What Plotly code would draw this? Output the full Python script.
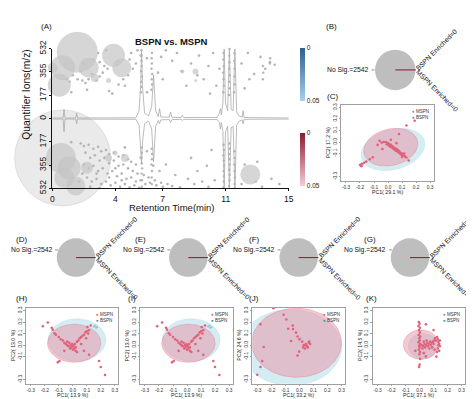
import numpy as np
import plotly.graph_objects as go

W, H = 474, 399
FONT = "Liberation Sans, Arial, sans-serif"


def fx(p):
    return p / W


def fy(p):
    return 1 - p / H


# ================= Panel A data =================
rt_ticks = [0, 4, 7, 11, 15]
mz_tickvals = [532, 355, 177, 0, -177, -355, -532]
mz_ticktext = ["532", "355", "177", "0", "177", "355", "532"]

# BSPN (upper half) large features
bspn_big_rt = [1.58, 0.65, 0.44, 2.31, 3.88, 4.40, 2.69, 0.02, 9.08, 8.25, 9.10, 3.56]
bspn_big_mz = [506, 387, 254, 387, 482, 387, 310, 387, 358, 358, 290, 290]
bspn_big_size = [41, 25, 23, 20, 23, 19, 8, 10, 6, 4, 3, 5]

# BSPN small features
bspn_dot_rt = [0.9, 1.1, 1.3, 1.6, 1.9, 2.1, 2.3, 2.5, 2.8, 3.0, 3.2, 1.8, 2.0, 2.6, 3.0, 3.3, 3.5, 2.9, 3.4, 4.5,
               4.8, 4.9, 5.0, 4.6, 5.1, 5.3, 5.4, 5.6, 6.0, 6.7, 6.9, 7.2, 7.6, 7.9, 8.2, 8.8, 9.3, 9.6, 9.9, 10.2,
               10.4, 10.6, 12.0, 12.4, 12.8, 13.2, 13.5, 13.8, 14.1, 12.5, 8.5, 9.2, 7.0, 6.0, 3.8, 2.2, 1.2, 4.2, 3.6, 10.0,
               12.2]
bspn_dot_mz = [300, 280, 330, 300, 290, 270, 300, 340, 290, 320, 350, 360, 420, 450, 430, 400, 380, 500, 520, 300,
               330, 450, 500, 250, 380, 420, 520, 480, 460, 350, 470, 520, 440, 500, 360, 420, 480, 300, 400, 500,
               250, 380, 420, 500, 340, 470, 380, 430, 410, 300, 250, 330, 300, 200, 190, 220, 200, 260, 210, 190,
               230]
bspn_streak_rt = [5.62, 5.66, 5.64, 5.68, 5.63, 5.67, 5.65, 5.66, 5.64,
                  6.28, 6.32, 6.30, 6.33, 6.29, 6.31, 6.30, 6.32,
                  10.84, 10.88, 10.86, 10.83, 10.87, 10.85, 10.86,
                  11.20, 11.24, 11.22, 11.25, 11.21, 11.23, 11.22, 11.24,
                  11.53, 11.57, 11.55, 11.56, 11.54, 11.55,
                  13.35, 13.38, 13.36, 13.80, 13.82]
bspn_streak_mz = [200, 240, 280, 320, 360, 400, 440, 480, 520,
                  220, 260, 300, 340, 380, 420, 460, 500,
                  200, 250, 300, 350, 400, 450, 500,
                  180, 230, 280, 330, 380, 430, 480, 530,
                  200, 260, 320, 380, 440, 500,
                  300, 350, 400, 420, 460]

# MSPN (lower half, plotted as negative m/z)
mspn_halo_rt = [0.65]
mspn_halo_mz = [-300]
mspn_halo_size = [96]

mspn_big_rt = [0.54, 1.06, 1.48, 0.75, 2.20, 4.60, 12.56, 3.56, 3.98]
mspn_big_mz = [-300, -376, -515, -452, -376, -300, -426, -300, -263]
mspn_big_size = [30, 23, 19, 20, 12, 8, 20, 7, 5]

mspn_dot_rt = [1.8, 2.0, 2.3, 2.6, 2.9, 3.1, 3.4, 3.6, 3.9, 4.2, 4.5, 4.8, 5.0, 5.3,
               2.1, 2.4, 2.7, 3.0, 3.3, 3.6, 3.9, 4.2, 4.5, 4.8, 5.1, 5.4, 5.8, 6.1, 6.5, 6.9, 7.3,
               2.0, 2.3, 2.6, 2.9, 3.2, 3.5, 3.8, 4.1, 4.4, 4.7, 5.0, 5.3, 5.6, 5.9, 6.2, 6.6, 7.0, 7.6, 8.1,
               2.2, 2.5, 2.8, 3.1, 3.4, 3.7, 4.0, 4.3, 4.6, 4.9, 5.2, 5.5,
               1.9, 2.4, 3.0, 3.6, 4.0, 4.4, 2.8, 1.7,
               8.6, 9.0, 9.5, 9.9, 10.3, 12.0, 12.9, 13.3, 13.9, 14.4, 12.2, 13.0,
               6.8, 7.8, 6.4, 5.6, 9.2, 8.8, 9.8, 10.1, 4.6, 1.2, 6.0, 7.2]
mspn_dot_mz = [-190, -210, -200, -230, -215, -250, -240, -270, -260, -290, -280, -310, -330, -350,
               -260, -300, -280, -320, -300, -340, -320, -360, -350, -380, -400, -420, -430, -450, -470, -490, -500,
               -350, -380, -360, -400, -380, -420, -400, -440, -420, -460, -450, -480, -470, -500, -490, -510, -520, -515, -525,
               -450, -480, -460, -500, -480, -510, -490, -520, -500, -525, -510, -528,
               -420, -520, -530, -450, -380, -470, -420, -480,
               -460, -500, -480, -520, -470, -500, -480, -520, -460, -500, -350, -330,
               -400, -430, -360, -300, -400, -300, -360, -240, -220, -180, -250, -350]
mspn_streak_rt = [5.66, 5.68, 5.65, 5.67, 5.69, 5.66, 5.68, 5.67,
                  6.30, 6.33, 6.31, 6.29, 6.32, 6.30, 6.31,
                  10.86, 10.88, 10.85, 10.87, 10.89, 10.86, 10.88, 10.87, 10.85,
                  11.22, 11.24, 11.21, 11.23, 11.25, 11.22, 11.24, 11.23, 11.21,
                  11.55, 11.57, 11.54, 11.56, 11.58, 11.55, 11.57]
mspn_streak_mz = [-220, -260, -300, -340, -380, -420, -470, -520,
                  -230, -270, -310, -350, -400, -450, -500,
                  -200, -240, -280, -320, -360, -400, -440, -480, -525,
                  -190, -230, -270, -310, -350, -390, -430, -470, -515,
                  -250, -300, -350, -400, -450, -500, -530]

# chromatograms (TIC, scaled to the m/z axis)
tic_rt = [0.0, 0.68, 0.74, 0.80, 1.48, 1.54, 1.60, 5.30, 5.50, 5.60, 5.66, 5.72, 5.85, 6.10, 6.30, 6.42, 6.55,
          6.72, 6.80, 6.88, 7.42, 7.50, 7.58, 8.17, 8.25, 8.33, 10.45, 10.60, 10.66, 10.72, 10.82, 10.90, 10.98,
          11.12, 11.23, 11.34, 11.47, 11.58, 11.69, 11.85, 12.04, 12.10, 12.16, 15.0]
tic_bspn = [4, 4, 70, 4, 4, 40, 4, 6, 60, 250, 532, 240, 40, 20, 90, 330, 60,
            15, 75, 12, 10, 50, 10, 8, 25, 8, 8, 40, 75, 30, 120, 532, 120,
            60, 532, 70, 60, 532, 50, 20, 10, 60, 8, 4]
tic_mspn = [-4, -4, -100, -4, -4, -40, -4, -6, -50, -200, -350, -180, -40, -20, -80, -330, -60,
            -15, -40, -10, -8, -30, -8, -6, -15, -6, -8, -30, -80, -30, -100, -532, -100,
            -60, -532, -70, -60, -532, -50, -20, -10, -40, -6, -4]

pval_ticks = [-0.05, 0]
pval_ticktext = ["0.05", "0"]

# ================= Pie data (B, D-G) =================
pie_labels = ["No Sig.", "BSPN Enriched", "MSPN Enriched"]
pie_values = [2542, 0, 0]

# ================= PCA data =================
pc_ticks = [-0.3, -0.2, -0.1, 0.0, 0.1, 0.2, 0.3]
pc_ticktext = ["-0.3", "-0.2", "-0.1", "0.0", "0.1", "0.2", "0.3"]
pc_yticks = [-0.3, -0.1, 0.0, 0.1, 0.2, 0.3]
pc_yticktext = ["-0.3", "-0.1", "0.0", "0.1", "0.2", "0.3"]

c_m_pc1 = [-0.200, -0.190, -0.186, -0.170, -0.155, -0.130, -0.109, -0.074, -0.060, -0.045, -0.030, -0.015,
           -0.010, 0.000, 0.005, 0.010, 0.015, 0.020, 0.025, 0.030, 0.035, 0.040, 0.045, 0.050, 0.055, 0.060,
           0.065, 0.070, 0.075, 0.080, 0.085, 0.090, 0.095, 0.100, 0.110, 0.120, 0.130, 0.147, 0.078, 0.131,
           0.190, 0.060, -0.040, 0.020, 0.100, 0.115]
c_m_pc2 = [-0.200, -0.210, -0.188, -0.180, -0.170, -0.150, -0.133, -0.025, 0.010, -0.005, 0.000, 0.000,
           -0.020, -0.010, -0.030, -0.020, -0.040, -0.025, -0.045, -0.035, -0.055, -0.045, -0.065, -0.055, -0.075, -0.060,
           -0.080, -0.070, -0.090, -0.080, -0.100, -0.095, -0.110, -0.100, -0.115, -0.125, -0.135, -0.160, 0.070, 0.143,
           0.184, -0.010, -0.060, 0.020, -0.130, -0.100]
c_b_pc1 = [-0.192, -0.180]
c_b_pc2 = [-0.192, -0.200]

h_m_pc1 = [-0.213, -0.178, -0.143, -0.130, -0.120, -0.100, -0.085, -0.070, -0.060, -0.050, -0.040, -0.030, -0.025,
           -0.020, -0.015, -0.010, -0.005, 0.000, 0.005, 0.010, 0.015, 0.020, 0.030, 0.040, 0.050, 0.060, 0.070,
           0.080, 0.090, 0.100, 0.104, 0.115, 0.128, 0.110, 0.095, -0.095, -0.107, 0.116, 0.187, 0.199, 0.230,
           -0.060, 0.030, 0.060, -0.150, 0.080, -0.040, 0.000, 0.020]
h_m_pc2 = [0.164, 0.196, 0.134, 0.102, 0.090, 0.070, 0.050, 0.040, 0.020, 0.010, 0.000, -0.010, 0.020,
           -0.030, 0.000, -0.020, 0.010, -0.040, -0.010, -0.030, 0.010, -0.020, 0.030, 0.040, 0.060, 0.070, 0.080,
           0.090, 0.110, 0.120, 0.156, 0.129, 0.170, 0.100, 0.060, -0.138, -0.150, -0.084, -0.138, -0.190, -0.260,
           -0.050, -0.060, 0.010, 0.150, -0.050, 0.030, 0.000, -0.050]
h_b_pc1 = [0.150, 0.174, 0.160, 0.165]
h_b_pc2 = [0.161, 0.156, 0.170, 0.150]

i_m_pc1 = list(h_m_pc1)
i_m_pc2 = list(h_m_pc2)
i_b_pc1 = list(h_b_pc1)
i_b_pc2 = list(h_b_pc2)

j_m_pc1 = [-0.185, -0.112, -0.093, -0.047, -0.045, -0.080, -0.024, -0.013, -0.059, 0.000, 0.052, 0.036, 0.045,
           0.077, 0.060, 0.027, 0.040, 0.065, 0.030, 0.055, -0.001, -0.013, -0.254, -0.265, -0.277, -0.300, -0.277,
           0.070, 0.020]
j_m_pc2 = [0.320, 0.263, 0.222, 0.169, 0.140, 0.142, 0.108, 0.075, 0.036, 0.050, -0.004, -0.002, 0.010,
           0.010, -0.020, -0.020, -0.030, 0.020, 0.000, -0.010, -0.057, -0.090, -0.017, -0.138, -0.190, -0.257, 0.180,
           0.030, 0.030]
j_b_pc1 = [0.010]
j_b_pc2 = [0.060]

k_m_pc1 = [-0.005, 0.000, -0.008, 0.003, -0.004, 0.002, -0.006, 0.004, -0.002, 0.001, -0.007, 0.005, -0.003,
           0.000, -0.005, 0.003, -0.002, 0.004, 0.000, -0.004,
           0.015, 0.025, 0.035, 0.045, 0.055, 0.065, 0.075, 0.085, 0.095, 0.105, 0.115, 0.020, 0.040, 0.060, 0.080,
           0.100, 0.030, 0.050, 0.070, 0.090, 0.110,
           0.125, 0.130, 0.135, 0.140, 0.145, 0.130, 0.140, 0.125, 0.135, 0.145,
           0.045, 0.100, 0.107, 0.045, 0.120, 0.030, -0.030]
k_m_pc2 = [0.200, 0.185, 0.165, 0.150, 0.130, 0.110, 0.090, 0.075, 0.060, 0.040, 0.025, 0.010, -0.005,
           -0.020, -0.040, -0.060, -0.080, -0.120, -0.170, -0.190,
           0.000, -0.010, 0.010, 0.000, 0.020, 0.010, 0.030, 0.020, 0.030, 0.040, 0.040, -0.030, -0.020, -0.010, 0.000,
           0.010, 0.030, 0.040, -0.030, -0.020, 0.060,
           0.070, 0.050, 0.030, 0.010, -0.010, -0.030, -0.050, -0.060, 0.000, 0.040,
           0.180, 0.130, -0.040, -0.098, -0.100, -0.070, -0.050]
k_b_pc1 = [0.060]
k_b_pc2 = [-0.010]

# confidence ellipses: (centre pc1, centre pc2, semi-axis a, semi-axis b, angle deg)
pca_panels = [
    dict(name="C", box=(336, 430, 91, 170), m=(c_m_pc1, c_m_pc2), b=(c_b_pc1, c_b_pc2),
         ell_b=(0.035, -0.065, 0.237, 0.169, 25), ell_m=(0.020, -0.045, 0.200, 0.155, 25),
         xlab="PC1( 29.1 %)", ylab="PC2( 17.2 %)"),
    dict(name="H", box=(16, 110, 302, 381), m=(h_m_pc1, h_m_pc2), b=(h_b_pc1, h_b_pc2),
         ell_b=(0.030, 0.044, 0.205, 0.184, 0), ell_m=(0.010, 0.016, 0.190, 0.165, 0),
         xlab="PC1( 13.9 %)", ylab="PC2( 13.0 %)"),
    dict(name="I", box=(132, 226, 302, 381), m=(i_m_pc1, i_m_pc2), b=(i_b_pc1, i_b_pc2),
         ell_b=(0.030, 0.044, 0.205, 0.184, 0), ell_m=(0.010, 0.016, 0.190, 0.165, 0),
         xlab="PC1( 13.9 %)", ylab="PC2( 13.0 %)"),
    dict(name="J", box=(246, 340, 302, 381), m=(j_m_pc1, j_m_pc2), b=(j_b_pc1, j_b_pc2),
         ell_b=(-0.060, -0.020, 0.360, 0.330, 0), ell_m=(-0.020, 0.020, 0.320, 0.300, 0),
         xlab="PC1( 33.2 %)", ylab="PC2( 24.6 %)"),
    dict(name="K", box=(368, 462, 302, 381), m=(k_m_pc1, k_m_pc2), b=(k_b_pc1, k_b_pc2),
         ell_b=(0.025, -0.010, 0.105, 0.110, 0), ell_m=(0.010, 0.004, 0.125, 0.128, 0),
         xlab="PC1( 37.1 %)", ylab="PC2( 14.5 %)"),
]

# pies: centre px and radius px
pie_panels = [
    dict(name="B", c=(391, 55), r=21, lab_dy=0),
    dict(name="D", c=(67, 250), r=20, lab_dy=-8),
    dict(name="E", c=(181, 250), r=20, lab_dy=-8),
    dict(name="F", c=(293, 250), r=20, lab_dy=-8),
    dict(name="G", c=(406, 250), r=20, lab_dy=-8),
]

panel_labels = [("(A)", 37, 10), ("(B)", 326, 10), ("(C)", 327, 83), ("(D)", 12, 231), ("(E)", 132, 231),
                ("(F)", 248, 231), ("(G)", 365, 231), ("(H)", 12, 292), ("(I)", 124, 292), ("(J)", 248, 292),
                ("(K)", 367, 292)]

GREY = "#c4c4c4"
DOT = "#b4b4b4"
PINK = "#e0627b"
BLUE_PT = "#9cc2d0"
LABEL_PX = 6.8


def ellipse_xy(cx, cy, a, b, ang_deg, n=120):
    t = np.linspace(0, 2 * np.pi, n)
    th = np.deg2rad(ang_deg)
    x = cx + a * np.cos(t) * np.cos(th) - b * np.sin(t) * np.sin(th)
    y = cy + a * np.cos(t) * np.sin(th) + b * np.sin(t) * np.cos(th)
    return x, y


def ann(text, x, y, size, angle=0, xanchor="center", yanchor="middle", **kw):
    d = dict(text=text, x=fx(x), y=fy(y), xref="paper", yref="paper", xanchor=xanchor, yanchor=yanchor,
             showarrow=False, textangle=angle, font=dict(size=size, family=FONT, color=kw.pop("color", "#111")))
    d.update(kw)
    return d


fig = go.Figure()

# ---------- Panel A ----------
fig.add_trace(go.Scatter(x=mspn_halo_rt, y=mspn_halo_mz, mode="markers", cliponaxis=False,
                         marker=dict(size=mspn_halo_size, color="rgba(185,185,185,0.42)",
                                     line=dict(width=0.6, color="rgba(160,160,160,0.6)")),
                         hoverinfo="skip", xaxis="x", yaxis="y"))
fig.add_trace(go.Scatter(x=tic_rt, y=tic_bspn, mode="lines", line=dict(color="#a9a9a9", width=0.8),
                         hoverinfo="skip", xaxis="x", yaxis="y"))
fig.add_trace(go.Scatter(x=tic_rt, y=tic_mspn, mode="lines", line=dict(color="#a9a9a9", width=0.8),
                         hoverinfo="skip", xaxis="x", yaxis="y"))
for rts, mzs, sz in [(bspn_dot_rt, bspn_dot_mz, 2.6), (bspn_streak_rt, bspn_streak_mz, 2.4),
                     (mspn_dot_rt, mspn_dot_mz, 2.6), (mspn_streak_rt, mspn_streak_mz, 2.4)]:
    fig.add_trace(go.Scatter(x=rts, y=mzs, mode="markers", cliponaxis=False,
                             marker=dict(size=sz, color=DOT, line=dict(width=0)),
                             hoverinfo="skip", xaxis="x", yaxis="y"))
for rts, mzs, szs in [(bspn_big_rt, bspn_big_mz, bspn_big_size), (mspn_big_rt, mspn_big_mz, mspn_big_size)]:
    fig.add_trace(go.Scatter(x=rts, y=mzs, mode="markers", cliponaxis=False,
                             marker=dict(size=szs, color=GREY, line=dict(width=0)),
                             hoverinfo="skip", xaxis="x", yaxis="y"))

# p-value colour bars
for cs, yc in [([[0, "#a9d0ec"], [1, "#2d5f8f"]], 59.5), ([[0, "#f7cbd5"], [1, "#8c1c30"]], 148)]:
    fig.add_trace(go.Scatter(x=[None], y=[None], mode="markers", hoverinfo="skip", xaxis="x", yaxis="y",
                             marker=dict(color=[0], cmin=pval_ticks[0], cmax=pval_ticks[1], colorscale=cs,
                                         showscale=True,
                                         colorbar=dict(x=fx(294), xanchor="left", y=fy(yc), yanchor="middle",
                                                       len=53, lenmode="pixels", thickness=5, xpad=0, ypad=0,
                                                       outlinewidth=0, ticks="", tickvals=pval_ticks,
                                                       ticktext=pval_ticktext,
                                                       tickfont=dict(size=6.5, family=FONT, color="#222")))))

# ---------- Pies ----------
shapes = []
annotations = []
for p in pie_panels:
    cx, cy = p["c"]
    r = p["r"]
    fig.add_trace(go.Pie(labels=pie_labels, values=pie_values, sort=False, textinfo="none", hoverinfo="skip",
                         showlegend=False,
                         marker=dict(colors=["#bebebe", "#8b1c31", "#8b1c31"], line=dict(width=0)),
                         domain=dict(x=[fx(cx - r), fx(cx + r)], y=[fy(cy + r), fy(cy - r)])))
    shapes.append(dict(type="line", xref="paper", yref="paper", x0=fx(cx), x1=fx(cx + r), y0=fy(cy), y1=fy(cy),
                       line=dict(color="#7d1d2f", width=1)))
    ly = cy + p["lab_dy"]
    lx_edge = cx - np.sqrt(max(r * r - p["lab_dy"] ** 2, 0))
    shapes.append(dict(type="line", xref="paper", yref="paper", x0=fx(lx_edge - 3), x1=fx(lx_edge),
                       y0=fy(ly), y1=fy(ly), line=dict(color="#444", width=0.6)))
    annotations.append(ann(f"{pie_labels[0]}={pie_values[0]}", lx_edge - 3.5, ly, LABEL_PX, xanchor="right"))
    # rotated labels start at the pie's right edge; place their centres half a text length along 45 degrees
    half_b = 0.5 * 8.1 * LABEL_PX / np.sqrt(2)
    half_m = 0.5 * 8.3 * LABEL_PX / np.sqrt(2)
    annotations.append(ann(f"{pie_labels[1]}={pie_values[1]}", cx + r + 1.5 + half_b, cy - 1.5 - half_b,
                           LABEL_PX, angle=-45))
    annotations.append(ann(f"{pie_labels[2]}={pie_values[2]}", cx + r + 1.5 + half_m, cy + 1.5 + half_m,
                           LABEL_PX, angle=45))

# ---------- PCA panels ----------
layout_axes = {}
for k, p in enumerate(pca_panels):
    n = k + 2
    xa, ya = f"x{n}", f"y{n}"
    x0, x1, y0, y1 = p["box"]
    ex, ey = ellipse_xy(*p["ell_b"])
    fig.add_trace(go.Scatter(x=ex, y=ey, mode="lines", fill="toself", fillcolor="#d4edf3",
                             line=dict(color="#bfe0ea", width=0.6), hoverinfo="skip", xaxis=xa, yaxis=ya))
    ex, ey = ellipse_xy(*p["ell_m"])
    fig.add_trace(go.Scatter(x=ex, y=ey, mode="lines", fill="toself", fillcolor="rgba(236,140,160,0.48)",
                             line=dict(color="rgba(226,125,145,0.7)", width=0.6), hoverinfo="skip",
                             xaxis=xa, yaxis=ya))
    fig.add_trace(go.Scatter(x=p["b"][0], y=p["b"][1], mode="markers", marker=dict(size=2.2, color=BLUE_PT),
                             hoverinfo="skip", xaxis=xa, yaxis=ya))
    fig.add_trace(go.Scatter(x=p["m"][0], y=p["m"][1], mode="markers", marker=dict(size=2.6, color=PINK),
                             hoverinfo="skip", xaxis=xa, yaxis=ya))
    common = dict(range=[-0.335, 0.325], showline=True, mirror=True, linecolor="#a0a0a0", linewidth=0.7,
                  ticks="outside", ticklen=1.5, tickwidth=0.6, tickcolor="#a0a0a0",
                  tickfont=dict(size=4.8, family=FONT, color="#333"), showgrid=False, zeroline=False)
    layout_axes[f"xaxis{n}"] = dict(domain=[fx(x0), fx(x1)], anchor=ya, tickvals=pc_ticks, ticktext=pc_ticktext,
                                    **common)
    layout_axes[f"yaxis{n}"] = dict(domain=[fy(y1), fy(y0)], anchor=xa, tickvals=pc_yticks,
                                    ticktext=pc_yticktext, tickangle=-90, **common)
    annotations.append(ann(p["xlab"], (x0 + x1) / 2, y1 + 12, 5.2, color="#222"))
    annotations.append(ann(p["ylab"], x0 - 13.5, (y0 + y1) / 2, 5.2, angle=-90, color="#222"))
    annotations.append(ann(f"<span style='color:{PINK}'>●</span> MSPN<br>"
                           f"<span style='color:#3f8fa3'>●</span> BSPN",
                           x1 - 3, y0 + 2, 4.5, xanchor="right", yanchor="top", align="left", color="#333"))

# ---------- Panel A titles ----------
annotations.append(ann("<b>BSPN vs. MSPN</b>", 163, 25, 9.5))
annotations.append(ann("Retention Time(min)", 164, 198, 9.5))
annotations.append(ann("Quantifier Ions(m/z)", 17, 81, 10.3, angle=-90))
for t, x, y in panel_labels:
    annotations.append(ann(t, x, y, 8))

fig.update_layout(
    width=W, height=H, autosize=False, margin=dict(l=0, r=0, t=0, b=0),
    paper_bgcolor="white", plot_bgcolor="white", showlegend=False,
    font=dict(family=FONT),
    xaxis=dict(domain=[fx(43), fx(283)], range=[0, 15], tickvals=rt_ticks, showline=True, linecolor="#111",
               linewidth=1, ticks="outside", ticklen=2, tickcolor="#111", showgrid=False, zeroline=False,
               tickfont=dict(size=8.5, family=FONT, color="#111"), anchor="y"),
    yaxis=dict(domain=[fy(178), fy(33)], range=[-532, 532], tickvals=mz_tickvals, ticktext=mz_ticktext,
               tickangle=-90, showline=True, linecolor="#111", linewidth=1, ticks="outside", ticklen=2,
               tickcolor="#111", showgrid=False, zeroline=False,
               tickfont=dict(size=8.5, family=FONT, color="#111"), anchor="x"),
    shapes=shapes, annotations=annotations,
    **layout_axes,
)

fig.write_html("out.html")
